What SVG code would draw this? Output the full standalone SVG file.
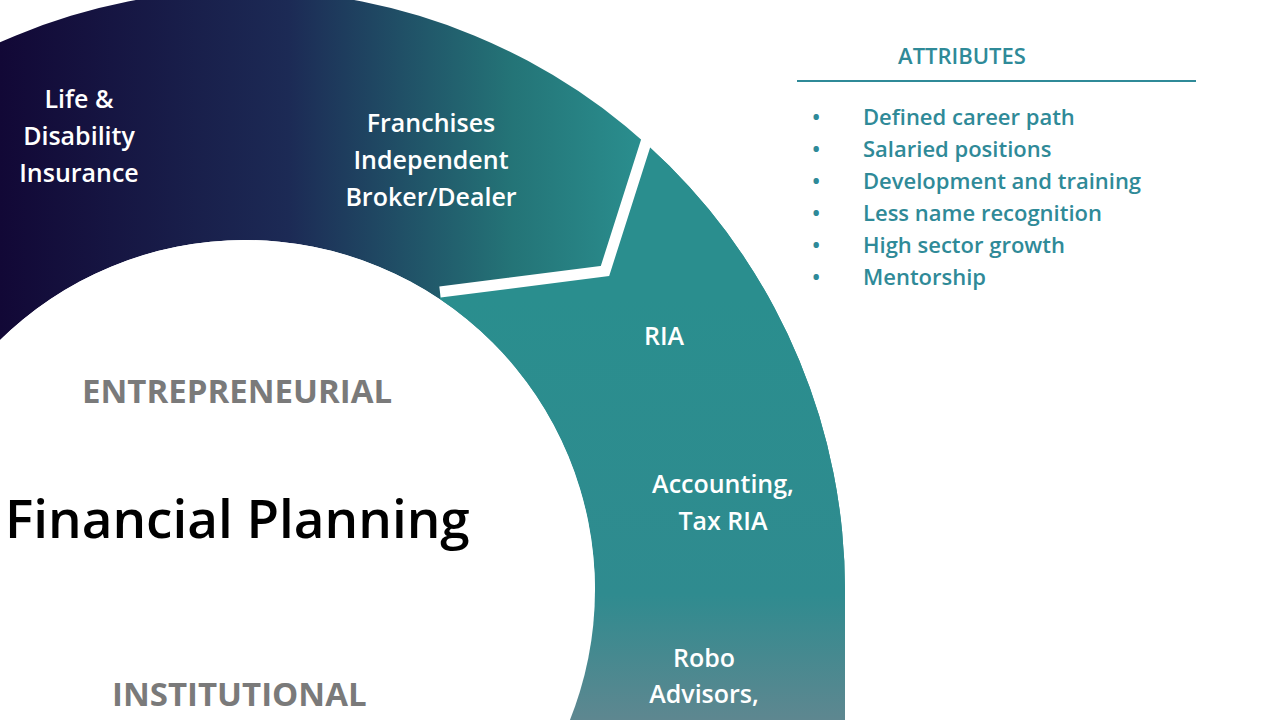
<svg xmlns="http://www.w3.org/2000/svg" width="1280" height="720" viewBox="0 0 1280 720">
<defs>
<linearGradient id="g1" x1="0" y1="0" x2="640" y2="0" gradientUnits="userSpaceOnUse">
<stop offset="0" stop-color="#120836"/><stop offset="0.45" stop-color="#1c2a55"/><stop offset="0.8" stop-color="#247477"/><stop offset="1" stop-color="#2a8e8e"/>
</linearGradient>
<linearGradient id="g2" x1="0" y1="300" x2="0" y2="720" gradientUnits="userSpaceOnUse">
<stop offset="0" stop-color="#2a8e8e"/><stop offset="0.7" stop-color="#2f8b8f"/><stop offset="1" stop-color="#5e8790"/>
</linearGradient>
<style>
.w{fill:#fff;font-family:"Open Sans","Noto Sans",sans-serif;font-weight:600;font-size:25px;text-anchor:middle}
.a{fill:#2f8a98;font-family:"Open Sans","Noto Sans",sans-serif;font-weight:600;font-size:22px}
.g{fill:#7a7a7a;font-family:"Open Sans","Noto Sans",sans-serif;font-weight:700;font-size:33px}
</style>
<clipPath id="c"><path d="M -355 590 A 600 600 0 0 1 845 590 L 845 720 L 560 720 L 595 590 A 350 350 0 0 0 -105 590 Z"/></clipPath>
</defs>
<rect width="1280" height="720" fill="#fff"/>
<g id="ring">
<path d="M -355 590 A 600 600 0 0 1 845 590 L 595 590 A 350 350 0 0 0 -105 590 Z" fill="url(#g1)"/>
<path d="M 440 290 L 605 270 L 650 135 L 900 135 L 900 720 L 440 720 Z" fill="url(#g2)" clip-path="url(#c)"/>
<path d="M 845 590 L 838 720 L 555 720 L 595 590 Z" fill="url(#g2)"/>
<circle cx="245" cy="590" r="350" fill="#fff"/>
<polyline points="440,292 605,271 648,136" fill="none" stroke="#fff" stroke-width="11"/>
</g>
<g id="labels">
<text class="w" x="79" y="108">Life &amp;</text>
<text class="w" x="79" y="145">Disability</text>
<text class="w" x="79" y="182">Insurance</text>
<text class="w" x="431" y="132">Franchises</text>
<text class="w" x="431" y="169">Independent</text>
<text class="w" x="431" y="206">Broker/Dealer</text>
<text class="w" x="664" y="345">RIA</text>
<text class="w" x="723" y="493">Accounting,</text>
<text class="w" x="723" y="530">Tax RIA</text>
<text class="w" x="704" y="667">Robo</text>
<text class="w" x="704" y="703">Advisors,</text>
<text class="g" x="82" y="403">ENTREPRENEURIAL</text>
<text class="g" x="112" y="706">INSTITUTIONAL</text>
<text x="5" y="538" font-family="'Open Sans','Noto Sans',sans-serif" font-size="53" font-weight="600" fill="#000">Financial Planning</text>
</g>
<g id="attributes">
<text class="a" x="962" y="64" text-anchor="middle" font-size="25" font-weight="700">ATTRIBUTES</text>
<line x1="797" y1="81" x2="1196" y2="81" stroke="#2f8a98" stroke-width="2"/>
<g class="a">
<text x="812" y="125">•</text><text x="863" y="125">Defined career path</text>
<text x="812" y="157">•</text><text x="863" y="157">Salaried positions</text>
<text x="812" y="189">•</text><text x="863" y="189">Development and training</text>
<text x="812" y="221">•</text><text x="863" y="221">Less name recognition</text>
<text x="812" y="253">•</text><text x="863" y="253">High sector growth</text>
<text x="812" y="285">•</text><text x="863" y="285">Mentorship</text>
</g>
</g>
</svg>
